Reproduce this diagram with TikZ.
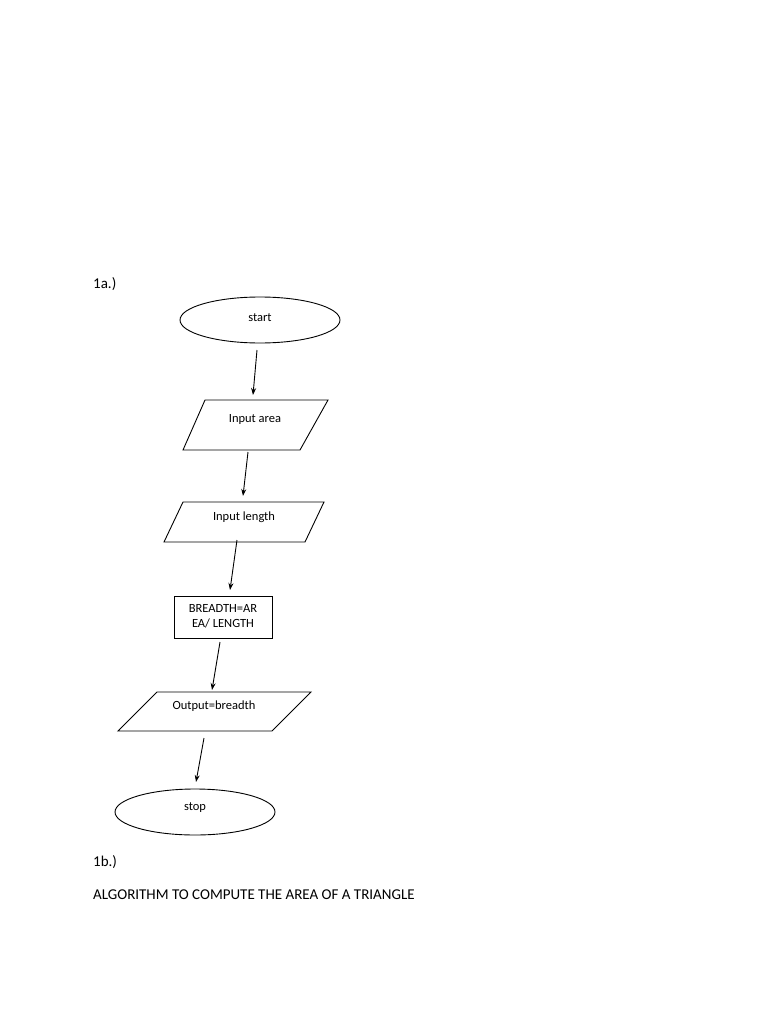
\documentclass[tikz,border=0pt]{standalone}
\usepackage{fontspec}
\setmainfont{Carlito}
\usetikzlibrary{arrows.meta,shapes.geometric}
\begin{document}
\begin{tikzpicture}[x=1pt,y=-1pt,
  shp/.style={draw,line width=0.9pt},
  lbl/.style={font=\fontsize{12.5}{15}\selectfont,inner sep=0},
  hd/.style={font=\fontsize{15}{18}\selectfont,inner sep=0,anchor=west},
  arr/.style={-{Stealth[length=7pt,width=5pt]},line width=0.9pt}]
\useasboundingbox (0,0) rectangle (768,1024);
\node[hd] (h1) at (93,284) {1a.)};
\node[shp,ellipse,minimum width=160pt,minimum height=46pt] (start) at (260,320) {};
\node[lbl] (ts) at (260,318) {start};
\draw[shp] (205,400) -- (328,400) -- (300,450) -- (183,450) -- cycle;
\node[lbl] (ia) at (255,419) {Input area};
\draw[shp] (183,502) -- (324,502) -- (305,542) -- (164,542) -- cycle;
\node[lbl] (il) at (244,517) {Input length};
\node[shp,minimum width=98pt,minimum height=42pt] (br) at (223,617) {};
\node[lbl,align=center] (tb) at (223,616) {BREADTH=AR\\EA/ LENGTH};
\draw[shp] (157,692) -- (311,692) -- (272,731) -- (118,731) -- cycle;
\node[lbl] (ob) at (214,706) {Output=breadth};
\node[shp,ellipse,minimum width=160pt,minimum height=46pt] (stop) at (195,812) {};
\node[lbl] (tp) at (195,808) {stop};
\coordinate (a1) at (257,350); \coordinate (a2) at (253,395);
\coordinate (b1) at (248,452); \coordinate (b2) at (243,496);
\coordinate (c1) at (237,540); \coordinate (c2) at (230,590);
\coordinate (d1) at (220,642); \coordinate (d2) at (212,690);
\coordinate (e1) at (204,738); \coordinate (e2) at (196,782);
\draw[arr] (a1) -- (a2);
\draw[arr] (b1) -- (b2);
\draw[arr] (c1) -- (c2);
\draw[arr] (d1) -- (d2);
\draw[arr] (e1) -- (e2);
\node[hd] (h2) at (93,862) {1b.)};
\node[hd] (h3) at (93,895) {ALGORITHM TO COMPUTE THE AREA OF A TRIANGLE};
\end{tikzpicture}
\end{document}
